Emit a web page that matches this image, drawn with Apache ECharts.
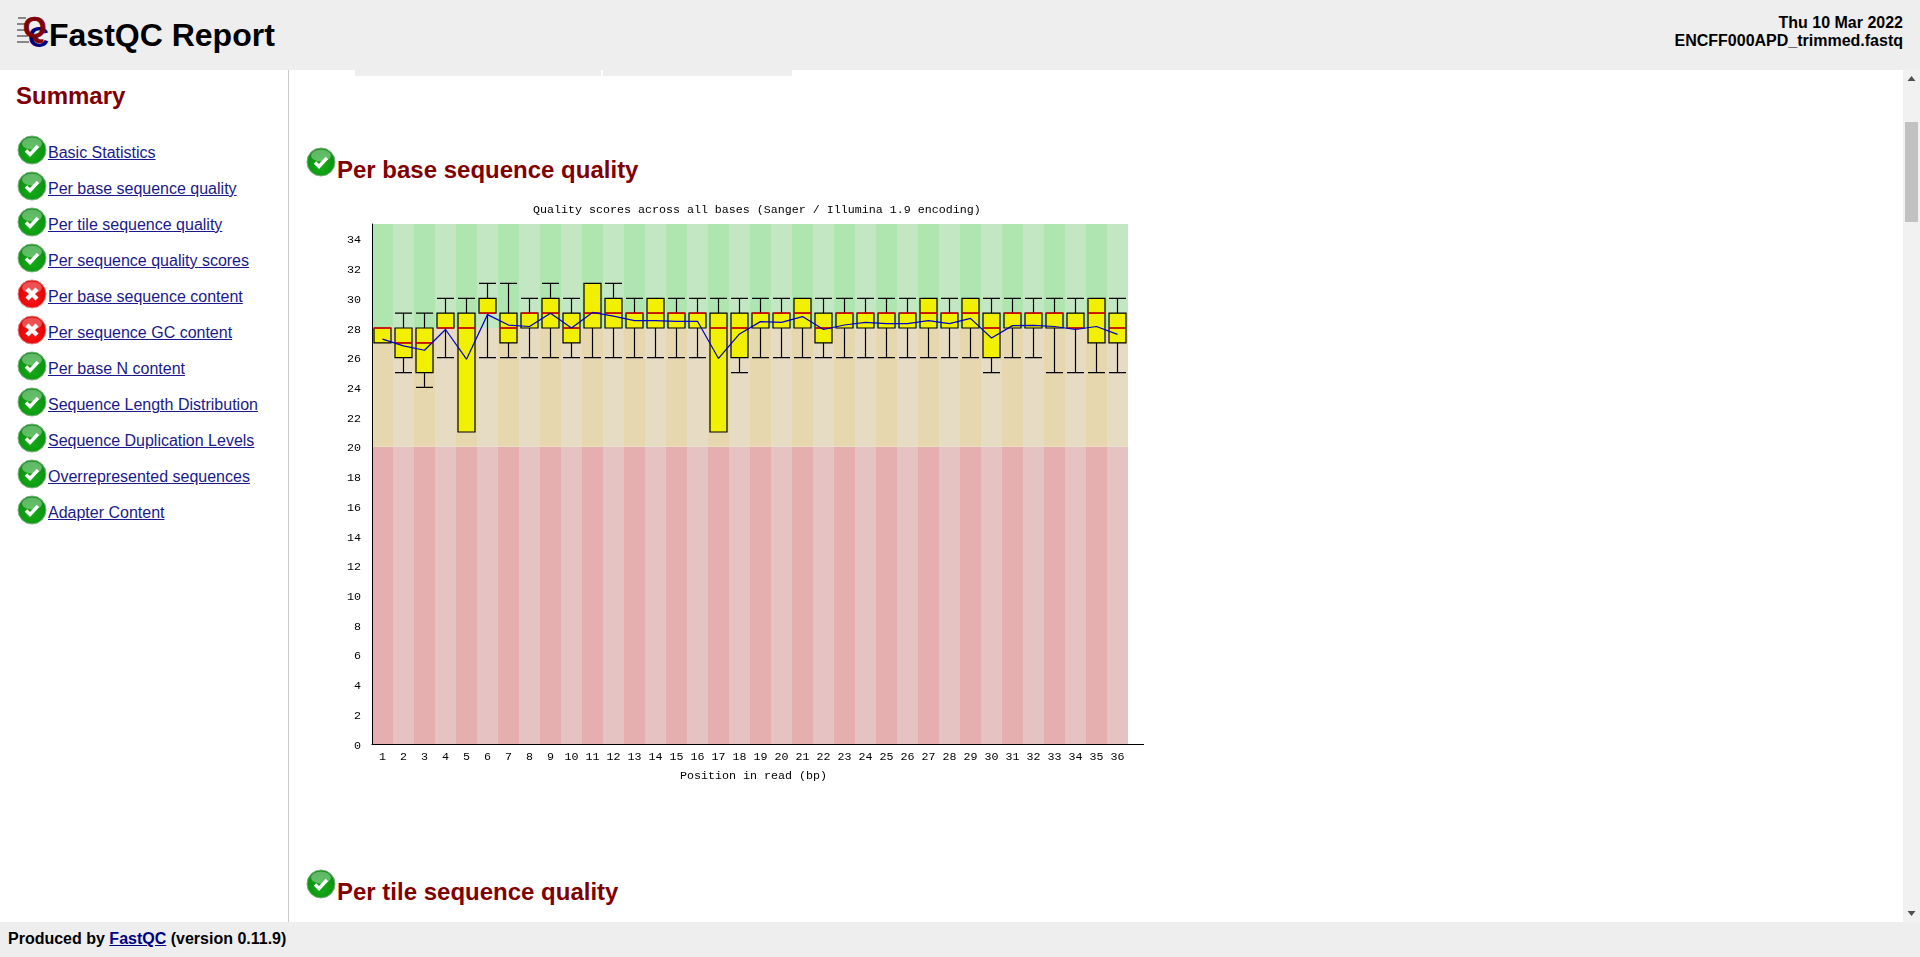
<!DOCTYPE html>
<html>
<head>
<meta charset="utf-8">
<title>FastQC Report</title>
<script src="https://cdn.jsdelivr.net/npm/echarts@6/dist/echarts.min.js"></script>
<style>
html,body{margin:0;padding:0;width:1920px;height:957px;overflow:hidden;background:#fff;font-family:"Liberation Sans",Arial,sans-serif;color:#000;}
.abs{position:absolute;}
.grey{background:#eee;}
#title{left:49px;top:15px;font-size:32px;font-weight:bold;line-height:40px;}
#dateline{right:17px;top:14px;font-size:16px;font-weight:bold;line-height:18px;text-align:right;}
#logo{left:17px;top:13px;overflow:visible;}
#sidebar{left:0;top:70px;width:288px;height:852px;border-right:1px solid #ccc;}
.h2{font-size:24px;font-weight:bold;color:#800000;line-height:28px;white-space:nowrap;}
.link{left:48px;font-size:16px;line-height:18px;color:#1a1a8c;text-decoration:underline;white-space:nowrap;}
.icon{width:30px;height:30px;}
#footer{left:0;top:922px;width:1920px;height:35px;font-size:16px;font-weight:bold;line-height:33px;}
#footer span{margin-left:8px;}
#footer a{color:#000080;text-decoration:underline;}
#chart{left:340px;top:190px;width:820px;height:600px;}
</style>
</head>
<body>
<div class="abs grey" style="left:0;top:0;width:1920px;height:70px"></div>
<div class="abs grey" style="left:355px;top:70px;width:246px;height:6px"></div>
<div class="abs grey" style="left:603px;top:70px;width:189px;height:6px"></div>
<svg class="abs" id="logo" width="36" height="36" viewBox="0 0 36 36">
	<g stroke="#888" stroke-width="2"><line x1="1" y1="5" x2="9" y2="5"/><line x1="0" y1="11" x2="9" y2="11"/><line x1="0" y1="17" x2="9" y2="17"/><line x1="0" y1="23" x2="11" y2="23"/><line x1="0" y1="29" x2="12" y2="29"/></g>
	<text x="11" y="34" font-family="Liberation Sans" font-weight="bold" font-size="29" fill="#000080">C</text>
	<text x="6" y="24" font-family="Liberation Sans" font-weight="bold" font-size="30" fill="#800000" stroke="#800000" stroke-width=".6">Q</text>
</svg>
<div class="abs" id="title">FastQC Report</div>
<div class="abs" id="dateline">Thu 10 Mar 2022<br>ENCFF000APD_trimmed.fastq</div>
<div class="abs" id="sidebar"></div>
<div class="abs h2" style="left:16px;top:82px">Summary</div>
<div id="summary"></div>
<div class="abs h2" style="left:337px;top:156px">Per base sequence quality</div>
<div class="abs h2" style="left:337px;top:878px">Per tile sequence quality</div>
<div class="abs" id="chart"></div>
<div class="abs" style="left:1903px;top:70px;width:17px;height:852px;background:#f1f1f1"></div>
<div class="abs" style="left:1905px;top:122px;width:13px;height:100px;background:#c1c1c1"></div>
<svg class="abs" style="left:1903px;top:70px" width="17" height="852">
	<path d="M8.5 6 L12.5 11 L4.5 11 Z" fill="#505050"/>
	<path d="M4.5 841 L12.5 841 L8.5 846 Z" fill="#505050"/>
</svg>
<div class="abs grey" id="footer"><span>Produced by <a>FastQC</a> (version 0.11.9)</span></div>

<script>
// report sidebar
var moduleNames = ['Basic Statistics','Per base sequence quality','Per tile sequence quality','Per sequence quality scores','Per base sequence content','Per sequence GC content','Per base N content','Sequence Length Distribution','Sequence Duplication Levels','Overrepresented sequences','Adapter Content'];
var moduleStatus = ['ok','ok','ok','ok','bad','bad','ok','ok','ok','ok','ok'];

// per base quality
var positions = ['1','2','3','4','5','6','7','8','9','10','11','12','13','14','15','16','17','18','19','20','21','22','23','24','25','26','27','28','29','30','31','32','33','34','35','36'];
var lowWhisker = [27,25,24,26,21,26,26,26,26,26,26,26,26,26,26,26,21,25,26,26,26,26,26,26,26,26,26,26,26,25,26,26,25,25,25,25];
var lowerQuartile = [27,26,25,28,21,29,27,28,28,27,28,28,28,28,28,28,21,26,28,28,28,27,28,28,28,28,28,28,28,26,28,28,28,28,27,27];
var median = [28,27,27,28,28,29,28,29,29,28,29,29,29,29,29,29,28,28,29,29,29,28,29,29,29,29,29,29,29,28,29,29,29,28,29,28];
var upperQuartile = [28,28,28,29,29,30,29,29,30,29,31,30,29,30,29,29,29,29,29,29,30,29,29,29,29,29,30,29,30,29,29,29,29,29,30,29];
var highWhisker = [28,29,29,30,30,31,31,30,31,30,31,31,30,30,30,30,30,30,30,30,30,30,30,30,30,30,30,30,30,30,30,30,30,30,30,30];
var meanQuality = [27.25,26.8,26.5,27.9,25.9,28.9,28.2,28.1,29.0,28.0,29.05,28.8,28.5,28.5,28.45,28.45,25.95,27.6,28.43,28.38,28.77,27.9,28.2,28.38,28.3,28.3,28.5,28.3,28.65,27.33,28.16,28.18,28.1,27.9,28.1,27.57];
var yTicks = [0,2,4,6,8,10,12,14,16,18,20,22,24,26,28,30,32,34];

// height of the poor / reasonable / good quality bands
var bandHeights = [20,8,7];
var bandColors = [['#e6afaf','#e6c3c3'],['#e6d7af','#e6dbc3'],['#afe6af','#c3e6c3']];

var okIcon = '<svg class="abs icon" style="left:LEFTpx;top:TOPpx" viewBox="0 0 30 30"><circle cx="15" cy="15" r="14" fill="url(#gOk)" stroke="#7fae7f" stroke-width="1"/><ellipse cx="15" cy="8.5" rx="10" ry="6" fill="#fff" opacity=".35"/><path d="M9 15.5 L13 19.5 L21 11" fill="none" stroke="#fff" stroke-width="3.4"/></svg>';
var badIcon = '<svg class="abs icon" style="left:LEFTpx;top:TOPpx" viewBox="0 0 30 30"><circle cx="15" cy="15" r="14" fill="url(#gBad)" stroke="#d88" stroke-width="1"/><ellipse cx="15" cy="8.5" rx="10" ry="6" fill="#fff" opacity=".3"/><path d="M10 10 L20 20 M20 10 L10 20" fill="none" stroke="#fff" stroke-width="4.4"/></svg>';
function placeIcon(tpl, left, top) {
	return tpl.replace('LEFT', left).replace('TOP', top);
}
var html = '<svg width="0" height="0" class="abs"><defs>'
	+ '<radialGradient id="gOk" cx=".5" cy=".65" r=".6"><stop offset="0" stop-color="#14ac14"/><stop offset="1" stop-color="#0a8f14"/></radialGradient>'
	+ '<radialGradient id="gBad" cx=".5" cy=".65" r=".6"><stop offset="0" stop-color="#f81818"/><stop offset="1" stop-color="#e00000"/></radialGradient>'
	+ '</defs></svg>';
moduleNames.forEach(function (name, i) {
	var y = 150 + i * 36;
	html += placeIcon(moduleStatus[i] == 'ok' ? okIcon : badIcon, 17, y - 15);
	html += '<div class="abs link" style="top:' + (y - 6) + 'px">' + name + '</div>';
});
html += placeIcon(okIcon, 306, 147) + placeIcon(okIcon, 306, 869);
document.getElementById('summary').innerHTML = html;

var chart = echarts.init(document.getElementById('chart'));

var monoFont = '"Liberation Mono", monospace';

var series = bandHeights.map(function (h, b) {
	return {
		type: 'bar',
		stack: 'bands',
		barWidth: '100%',
		silent: true,
		data: positions.map(function () { return h; }),
		itemStyle: {
			color: function (p) { return bandColors[b][p.dataIndex % 2]; }
		}
	};
});

series.push({
	type: 'boxplot',
	silent: true,
	boxWidth: [17, 17],
	itemStyle: { color: '#f0f000', borderColor: '#000', borderWidth: 1.2 },
	data: positions.map(function (p, i) {
		return [lowWhisker[i], lowerQuartile[i], median[i], upperQuartile[i], highWhisker[i]];
	}),
	z: 3
});
series.push({
	type: 'scatter',
	silent: true,
	symbol: 'rect',
	symbolSize: [17, 1.5],
	itemStyle: { color: '#e80000', opacity: 1 },
	data: median,
	z: 6
});
series.push({
	type: 'line',
	silent: true,
	symbol: 'none',
	lineStyle: { color: '#0000c8', width: 1.2 },
	data: meanQuality,
	z: 7
});

chart.setOption({
	animation: false,
	title: {
		text: 'Quality scores across all bases (Sanger / Illumina 1.9 encoding)',
		left: 193,
		top: 14,
		padding: 0,
		textStyle: { fontFamily: monoFont, fontSize: 11.67, fontWeight: 'normal', color: '#000' }
	},
	grid: { left: 32, top: 34, width: 756, height: 520 },
	xAxis: {
		type: 'category',
		data: positions,
		name: 'Position in read (bp)',
		nameLocation: 'middle',
		nameGap: 26,
		nameTextStyle: { fontFamily: monoFont, fontSize: 11.67, color: '#000', padding: [0, 0, 0, 7] },
		axisTick: { show: false },
		axisLine: { lineStyle: { color: '#000', width: 1 } },
		axisLabel: { interval: 0, margin: 7, fontFamily: monoFont, fontSize: 11.67, color: '#000' },
		splitLine: { show: false },
		z: 8
	},
	yAxis: {
		type: 'value',
		min: 0,
		max: 35,
		interval: 2,
		axisTick: { show: false },
		axisLine: { show: true, onZero: false, lineStyle: { color: '#000', width: 1 } },
		axisLabel: {
			margin: 11,
			showMaxLabel: false,
			verticalAlign: 'top',
			lineHeight: 3,
			fontFamily: monoFont,
			fontSize: 11.67,
			color: '#000',
			formatter: function (v) { return yTicks.indexOf(v) > -1 ? String(v) : ''; }
		},
		splitLine: { show: false },
		z: 8
	},
	// baseline runs on past the last column
	graphic: [{
		type: 'line',
		z: 10,
		shape: { x1: 788, y1: 554.5, x2: 804, y2: 554.5 },
		style: { stroke: '#000', lineWidth: 1 }
	}],
	series: series
});
</script>
</body>
</html>
